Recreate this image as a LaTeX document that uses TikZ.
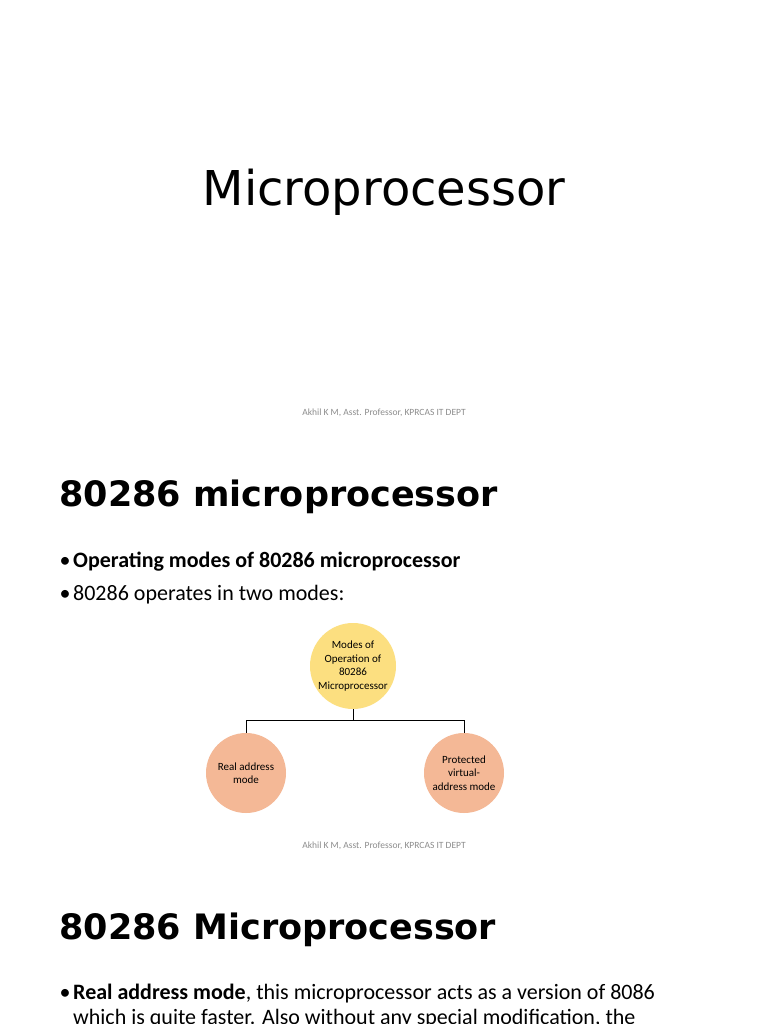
\documentclass[tikz,border=0pt]{standalone}
\usepackage{fontspec}
\setmainfont{Carlito}
\newfontfamily\dvs{DejaVu Sans}
\definecolor{ylw}{HTML}{FCDF80}
\definecolor{slm}{HTML}{F4B896}
\definecolor{foot}{HTML}{8C8C8C}
\newcommand{\bl}{\makebox[0.62em][l]{\textbullet}}
\begin{document}
\begin{tikzpicture}[x=1pt,y=-1pt,
  yc/.style={circle,fill=ylw,minimum size=86pt,inner sep=0pt,align=center,font=\fontsize{11}{13.5}\selectfont},
  sc/.style={circle,fill=slm,minimum size=80pt,inner sep=0pt,align=center,font=\fontsize{11}{13.5}\selectfont},
  footer/.style={font=\fontsize{9.5}{11}\selectfont,text=foot},
  head/.style={anchor=west,font=\dvs\bfseries\fontsize{35}{40}\selectfont},
  bul/.style={anchor=west,font=\fontsize{22}{25}\selectfont}]
\clip (0,0) rectangle (768,1024);
\useasboundingbox (0,0) rectangle (768,1024);
\fill[white] (0,0) rectangle (768,1024);
\node[font=\dvs\fontsize{48}{56}\selectfont] (title) at (384,192) {Microprocessor};
\node[footer] (f1) at (384,413) {Akhil K M, Asst. Professor, KPRCAS IT DEPT};
\node[head] (h1) at (56,497) {80286 microprocessor};
\node[bul] (b1) at (56,562) {\bl\textbf{Operating modes of 80286 microprocessor}};
\node[bul] (b2) at (56,595) {\bl 80286 operates in two modes:};
\node[yc] (top) at (353,666) {Modes of\\Operation of\\80286\\Microprocessor};
\node[sc] (l) at (246,773) {Real address\\mode};
\node[sc] (r) at (464,773) {Protected\\virtual-\\address mode};
\coordinate (j) at (353,720);
\draw[line width=1pt] (top.south) -- (j);
\draw[line width=1pt] (l.north) -- (l.north |- j) -- (r.north |- j) -- (r.north);
\node[footer] (f2) at (384,846) {Akhil K M, Asst. Professor, KPRCAS IT DEPT};
\node[head] (h2) at (56,930) {80286 Microprocessor};
\node[bul,anchor=north west,align=left] (b3) at (56,981) {\bl\textbf{Real address mode}, this microprocessor acts as a version of 8086\\\hspace*{0.62em}which is quite faster. Also without any special modification, the};
\end{tikzpicture}
\end{document}
